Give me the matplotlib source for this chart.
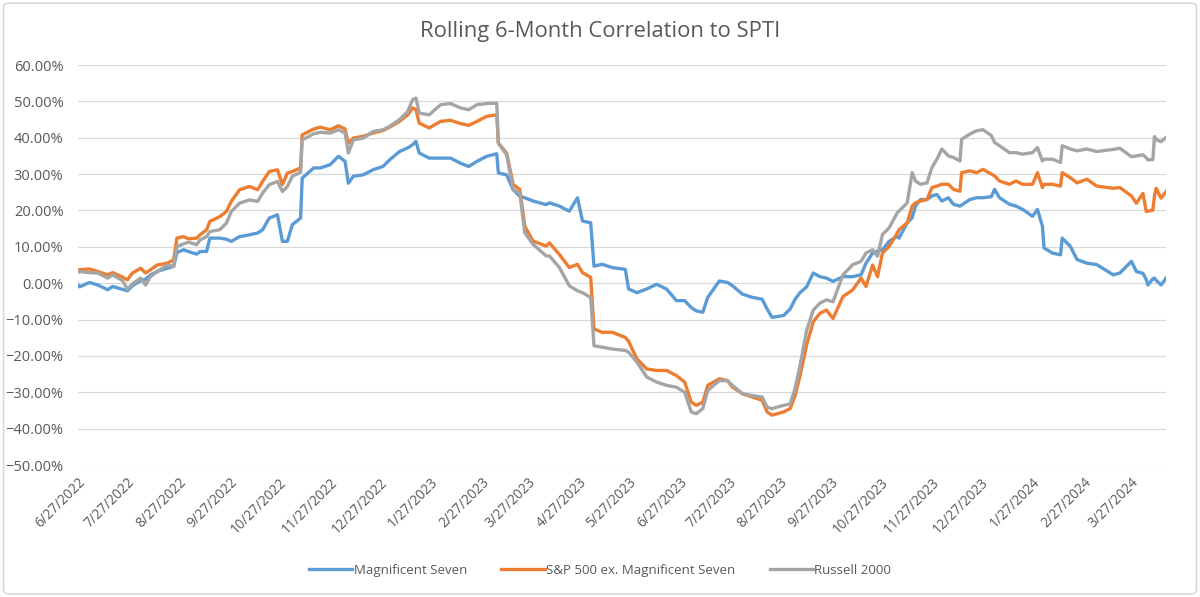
import pandas as pd
import matplotlib
matplotlib.use("Agg")
import matplotlib.pyplot as plt
import matplotlib.ticker as mticker
from matplotlib.patches import FancyBboxPatch

# === Data, days counted from 6/27/2022 ===
start_date = "2022-06-27"
end_offset = 660

day_offsets = [0, 1, 7, 12, 18, 21, 27, 30, 33, 38, 41, 44, 48, 54, 58, 60, 64, 67, 72, 74,
               78, 80, 86, 90, 93, 98, 104, 109, 112, 116, 121, 124, 127, 130, 135, 136, 143, 147,
               153, 158, 162, 164, 167, 173, 179, 185, 189, 195, 200, 203, 205, 207, 213, 220,
               226, 232, 237, 242, 248, 254, 255, 260, 264, 268, 271, 276, 284, 286, 292, 298,
               303, 306, 311, 313, 318, 324, 332, 334, 339, 345, 351, 357, 363, 368, 372, 375,
               379, 382, 389, 394, 397, 403, 409, 415, 418, 421, 428, 432, 435, 438, 442, 446,
               450, 454, 458, 464, 470, 475, 478, 482, 485, 488, 492, 497, 498, 503, 506, 508,
               511, 515, 518, 521, 524, 528, 531, 535, 536, 541, 545, 549, 554, 556, 559, 565,
               569, 573, 579, 582, 585, 586, 591, 596, 597, 602, 606, 612, 618, 628, 632, 639,
               642, 646, 648, 649, 652, 653, 654, 657, 660]

mag7 = [-0.5, -1.0, 0.2, -0.5, -1.8, -0.9, -1.7, -2.1, -0.7, 0.7, 1.1, 2.3, 3.2, 4.1, 4.6, 8.4,
        9.2, 8.7, 8.0, 8.7, 8.7, 12.4, 12.4, 12.1, 11.5, 12.8, 13.3, 13.8, 14.7, 17.9, 18.8, 11.5,
        11.5, 16.1, 17.9, 28.9, 31.7, 31.7, 32.6, 34.9, 33.5, 27.5, 29.4, 29.8, 31.2, 32.1, 33.9,
        36.2, 37.2, 38.1, 39.0, 35.8, 34.4, 34.4, 34.4, 33.0, 32.1, 33.5, 34.9, 35.6, 30.3, 29.8,
        25.7, 23.9, 23.5, 22.6, 21.6, 22.1, 21.2, 19.8, 23.5, 17.1, 16.6, 4.7, 5.2, 4.3, 3.8,
        -1.6, -2.6, -1.6, -0.3, -1.6, -4.8, -4.8, -6.7, -7.6, -8.0, -3.9, 0.6, 0.2, -0.7, -3.0,
        -3.9, -4.4, -7.1, -9.4, -8.9, -7.1, -4.4, -2.6, -1.0, 2.8, 1.8, 1.4, 0.5, 1.8, 1.8, 2.3,
        5.5, 8.3, 8.8, 9.2, 11.5, 12.9, 12.4, 16.6, 18.0, 21.2, 23.0, 23.0, 24.0, 24.4, 22.6,
        23.5, 21.7, 21.2, 21.5, 23.0, 23.5, 23.5, 23.8, 25.8, 23.5, 21.7, 21.2, 20.3, 18.4, 20.3,
        15.7, 9.7, 8.3, 7.8, 12.4, 10.1, 6.5, 5.5, 5.1, 2.3, 2.8, 6.0, 3.2, 2.7, 1.0, -0.5, 1.2,
        1.4, 0.8, -0.5, 1.4]

sp500_ex = [3.5, 3.7, 3.9, 3.2, 2.3, 2.9, 1.7, 0.9, 2.8, 4.1, 2.8, 3.7, 5.0, 5.5, 6.4, 12.4,
            12.8, 12.2, 12.4, 13.3, 14.7, 17.0, 18.3, 19.7, 22.5, 25.7, 26.6, 25.7, 28.0, 30.7,
            31.2, 27.1, 30.3, 30.7, 31.7, 40.8, 42.4, 42.9, 42.2, 43.3, 42.4, 38.5, 39.9, 40.4,
            41.3, 42.0, 42.9, 44.5, 46.3, 48.2, 47.7, 44.0, 42.7, 44.5, 44.8, 43.9, 43.4, 44.5,
            45.9, 46.3, 38.5, 35.8, 27.1, 25.8, 15.7, 11.6, 10.2, 11.1, 7.9, 4.3, 5.2, 2.9, 1.6,
            -12.6, -13.5, -13.5, -14.9, -16.0, -20.8, -23.6, -24.0, -24.0, -25.4, -27.2, -32.7,
            -33.6, -32.7, -28.1, -26.3, -26.8, -28.6, -30.4, -31.3, -32.2, -35.4, -36.3, -35.4,
            -34.5, -30.9, -25.4, -17.0, -10.6, -8.3, -7.4, -9.7, -3.7, -1.8, 1.4, -0.9, 5.0, 1.8,
            8.3, 10.1, 13.8, 14.7, 16.6, 21.2, 22.1, 22.6, 23.0, 26.3, 26.7, 27.2, 27.2, 25.8,
            25.3, 30.4, 30.9, 30.4, 31.3, 30.0, 29.5, 28.1, 27.2, 28.1, 27.2, 27.2, 30.4, 26.3,
            27.2, 27.2, 26.7, 30.4, 29.0, 27.6, 28.6, 26.7, 26.1, 26.3, 24.0, 22.0, 24.7, 19.7,
            19.8, 20.1, 24.0, 26.1, 23.4, 25.2]

russell = [3.0, 3.2, 2.9, 2.8, 1.4, 2.3, 0.7, -1.7, -0.2, 1.4, -0.5, 1.8, 3.2, 5.0, 4.6, 10.1,
           10.8, 11.3, 10.6, 11.9, 12.8, 14.2, 14.7, 16.5, 19.7, 22.0, 22.9, 22.5, 24.8, 27.1,
           28.0, 25.2, 26.6, 29.4, 30.5, 39.4, 41.1, 41.5, 41.3, 42.2, 41.3, 35.8, 39.4, 39.9,
           41.7, 42.2, 43.1, 45.0, 47.2, 50.5, 50.9, 46.8, 46.3, 49.1, 49.4, 48.2, 47.7, 49.1,
           49.4, 49.5, 38.5, 35.3, 25.7, 24.8, 13.9, 10.7, 7.5, 7.5, 4.3, -0.7, -2.1, -2.6, -3.9,
           -17.2, -17.6, -18.1, -18.5, -19.0, -21.7, -25.8, -27.2, -28.1, -28.6, -30.0, -35.4,
           -35.9, -34.5, -29.5, -26.8, -26.8, -28.1, -30.4, -30.9, -31.3, -34.1, -34.5, -33.6,
           -33.2, -28.9, -22.6, -13.0, -7.4, -5.5, -4.6, -5.1, 2.3, 5.1, 6.0, 8.3, 9.2, 7.4, 13.4,
           15.2, 19.4, 19.8, 22.1, 30.4, 28.1, 27.2, 27.6, 31.8, 34.1, 36.9, 35.0, 34.6, 33.6,
           39.6, 41.0, 41.9, 42.2, 40.6, 38.7, 37.8, 35.9, 35.9, 35.5, 35.9, 37.3, 33.6, 34.1,
           34.1, 33.2, 37.8, 36.9, 36.4, 36.9, 36.2, 36.8, 37.1, 34.8, 35.0, 35.3, 34.5, 33.9,
           34.0, 40.3, 39.5, 38.9, 40.1]

series_names = ["Magnificent Seven", "S&P 500 ex. Magnificent Seven", "Russell 2000"]
series_colors = ["#5B9BD5", "#ED7D31", "#A5A5A5"]

# === Build frame ===
start = pd.Timestamp(start_date)
df = pd.DataFrame({
    "date": start + pd.to_timedelta(day_offsets, unit="D"),
    series_names[0]: mag7,
    series_names[1]: sp500_ex,
    series_names[2]: russell,
})
df.set_index("date", inplace=True)
df = df / 100.0

# monthly ticks on the 27th
tick_dates = pd.date_range("2022-06-01", "2024-03-01", freq="MS") + pd.Timedelta(days=26)
tick_labels = [f"{d.month}/{d.day}/{d.year}" for d in tick_dates]

# === Plot ===
plt.rcParams["font.family"] = ["Open Sans", "DejaVu Sans"]
text_color = "#595959"

fig = plt.figure(figsize=(12, 5.97), dpi=100)
ax = fig.add_axes([0.065, 0.2211, 0.9067, 0.670])

for name, color in zip(series_names, series_colors):
    ax.plot(df.index, df[name], color=color, lw=2.4, label=name, solid_joinstyle="round")

ax.set_xlim(start, start + pd.Timedelta(days=end_offset))
ax.set_ylim(-0.5, 0.6)
ax.yaxis.set_major_locator(mticker.MultipleLocator(0.1))
ax.yaxis.set_major_formatter(mticker.PercentFormatter(1.0, decimals=2))
ax.set_xticks(tick_dates)
ax.set_xticklabels(tick_labels, rotation=45, ha="right", rotation_mode="anchor")

ax.grid(axis="y", color="#D9D9D9", lw=0.9)
ax.set_axisbelow(True)
for s in ax.spines.values():
    s.set_visible(False)
ax.tick_params(axis="both", length=0, colors=text_color)
ax.tick_params(axis="y", pad=10.5, labelsize=10.5)
ax.tick_params(axis="x", pad=7, labelsize=9.8)

fig.suptitle("Rolling 6-Month Correlation to SPTI", y=0.965, fontsize=15.8, color=text_color)

fig.legend(loc="center", bbox_to_anchor=(0.5, 0.045), ncol=3, frameon=False,
           fontsize=9.5, handlelength=3.3, handletextpad=0.1, columnspacing=2.6,
           labelcolor=text_color)

# chart border
fig.patches.append(FancyBboxPatch((0.003, 0.005), 0.994, 0.99, boxstyle="round,pad=0,rounding_size=0.006",
                                  transform=fig.transFigure, fill=False, edgecolor="#D9D9D9", lw=1.2))

fig.savefig("out.png", dpi=100)
